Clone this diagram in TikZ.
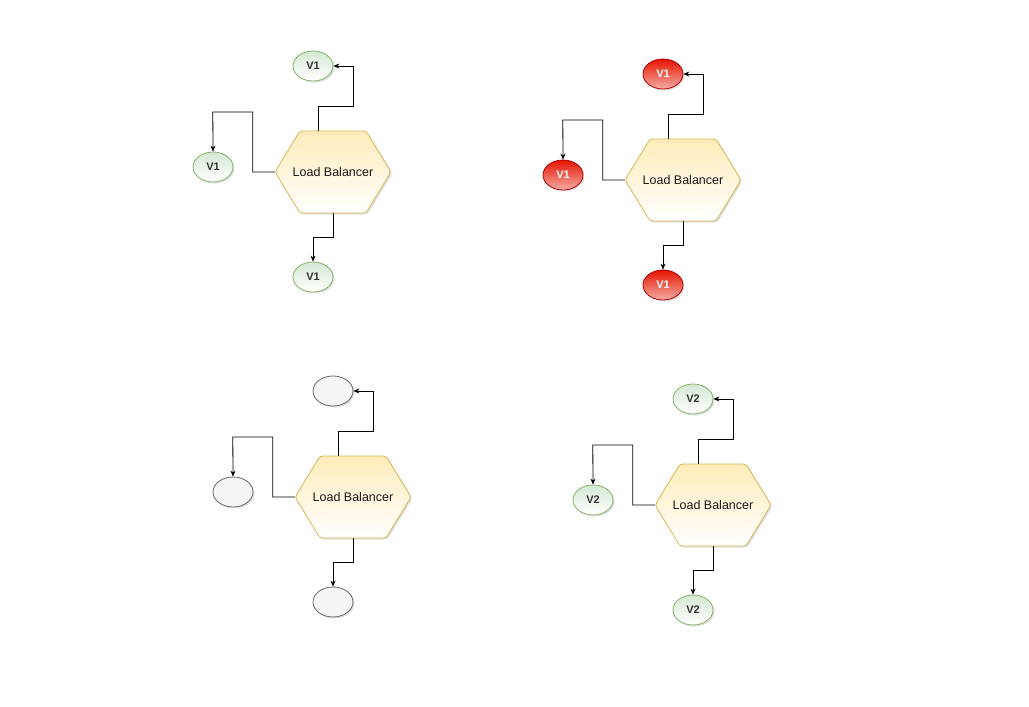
\documentclass[tikz,border=0pt]{standalone}
\usepackage{fontspec}
\setmainfont{Liberation Sans}
\usetikzlibrary{shadows,arrows.meta,shapes.geometric}
\begin{document}
\begin{tikzpicture}[x=1pt,y=-1pt,
  lbhex/.style={top color=hexf,bottom color=white,draw=hexb,line width=0.8pt,rounded corners=3pt,drop shadow={opacity=0.25,shadow xshift=1.5pt,shadow yshift=-1.5pt}},
  ellbase/.style={ellipse,minimum width=40pt,minimum height=30pt,inner sep=0pt,font=\bfseries\fontsize{11}{12}\selectfont,line width=0.8pt,text=black!80,drop shadow={opacity=0.25,shadow xshift=1.5pt,shadow yshift=-1.5pt}},
  vgreen/.style={ellbase,draw=gb,top color=gf,bottom color=white},
  vred/.style={ellbase,draw=rb,top color=rf,bottom color=rf!35,text=white},
  vgrey/.style={ellbase,draw=gyb,fill=gyf},
  conn/.style={draw,line width=0.8pt,-{Stealth[length=6pt,width=5pt]}}]
\definecolor{hexb}{HTML}{D6B656}
\definecolor{hexf}{HTML}{FFECBA}
\definecolor{gb}{HTML}{82B366}
\definecolor{gf}{HTML}{D5E8D4}
\definecolor{rb}{HTML}{B20000}
\definecolor{rf}{HTML}{E51400}
\definecolor{gyb}{HTML}{666666}
\definecolor{gyf}{HTML}{F5F5F5}
\useasboundingbox (0,0) rectangle (1029,707);
\newcommand{\cluster}[5]{%
\begin{scope}[shift={(#1,#2)}]
\path[lbhex] (275,172)--(300,131)--(366,131)--(391,172)--(366,213)--(300,213)--cycle;
\node[inner sep=0pt,minimum width=116pt,minimum height=82pt,font=\fontsize{12.5}{14}\selectfont,text=black!90] (#3h) at (333,172) {Load Balancer};
\node[#4] (#3t) at (313,66) {#5};
\node[#4] (#3l) at (213,167) {#5};
\node[#4] (#3b) at (313,277) {#5};
\draw[conn] ([xshift=-15pt]#3h.north) -- ++(0,-24) -- ++(35,0) |- (#3t.east);
\draw[conn] (#3h.west) -- ++(-22,0) |- ++(-40,-60) -- (#3l.north);
\draw[conn] (#3h.south) -- ++(0,24) -| (#3b.north);
\end{scope}}
\cluster{0}{0}{a}{vgreen}{V1}
\cluster{350}{8}{b}{vred}{V1}
\cluster{20}{325}{c}{vgrey}{}
\cluster{380}{333}{d}{vgreen}{V2}
\end{tikzpicture}
\end{document}
